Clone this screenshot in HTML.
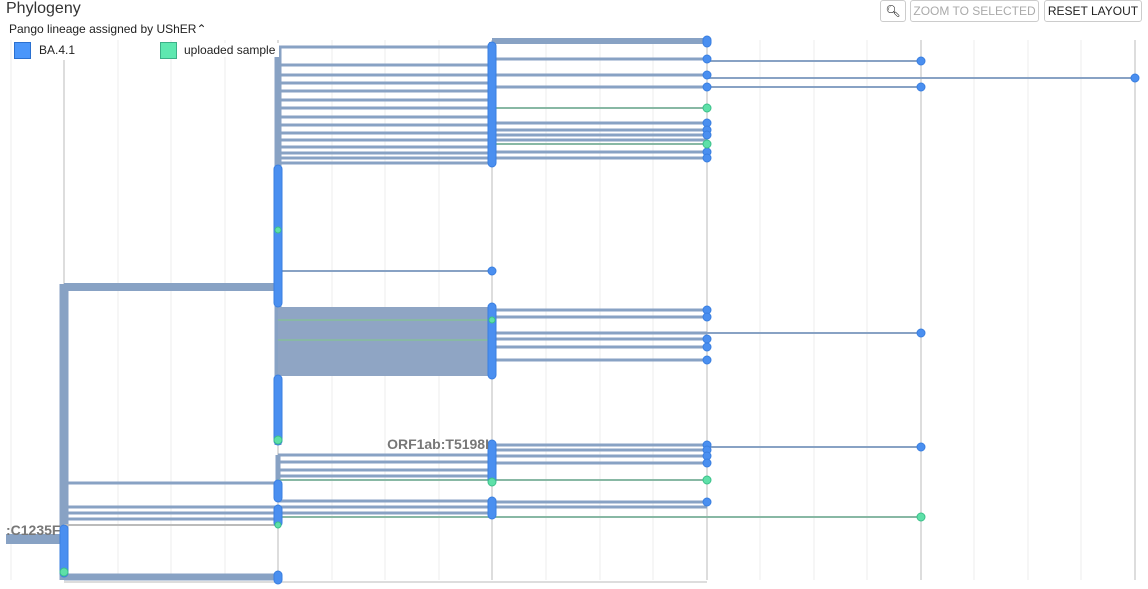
<!DOCTYPE html>
<html><head><meta charset="utf-8"><style>
body{margin:0;width:1148px;height:589px;background:#fff;font-family:"Liberation Sans",sans-serif;overflow:hidden;position:relative}
.t{position:absolute;left:6px;top:0;font-size:16px;color:#333}
.s{position:absolute;left:9px;top:22px;font-size:12px;color:#222}
.btn{position:absolute;top:0;height:20px;border:1px solid #ccc;border-radius:3px;font-size:12px;line-height:20px;text-align:center;background:#fff}
</style></head><body>
<svg width="1148" height="589" style="position:absolute;left:0;top:0">
<g stroke="#eee" stroke-width="1">
<line x1="11" y1="40" x2="11" y2="580"/><line x1="118" y1="40" x2="118" y2="580"/><line x1="171" y1="40" x2="171" y2="580"/><line x1="225" y1="40" x2="225" y2="580"/>
<line x1="332" y1="40" x2="332" y2="580"/><line x1="385" y1="40" x2="385" y2="580"/><line x1="439" y1="40" x2="439" y2="580"/>
<line x1="546" y1="40" x2="546" y2="580"/><line x1="600" y1="40" x2="600" y2="580"/><line x1="653" y1="40" x2="653" y2="580"/>
<line x1="760" y1="40" x2="760" y2="580"/><line x1="814" y1="40" x2="814" y2="580"/><line x1="867" y1="40" x2="867" y2="580"/>
<line x1="974" y1="40" x2="974" y2="580"/><line x1="1028" y1="40" x2="1028" y2="580"/><line x1="1081" y1="40" x2="1081" y2="580"/>
</g>
<g stroke="#ddd" stroke-width="2">
<line x1="64" y1="60" x2="64" y2="580"/><line x1="278" y1="40" x2="278" y2="580"/><line x1="492" y1="40" x2="492" y2="580"/><line x1="707" y1="40" x2="707" y2="580"/><line x1="921" y1="40" x2="921" y2="580"/><line x1="1135" y1="40" x2="1135" y2="580"/>
<line x1="64" y1="582" x2="707" y2="582"/>
</g>
<g stroke="#88a2c4" fill="none">
<line x1="6" y1="539" x2="64" y2="539" stroke-width="10"/>
<line x1="64" y1="284" x2="64" y2="580" stroke-width="9"/>
<line x1="64" y1="287" x2="278" y2="287" stroke-width="8"/>
<line x1="64" y1="577" x2="278" y2="577" stroke-width="7"/>
<line x1="278" y1="46" x2="278" y2="445" stroke-width="7"/>
<g stroke-width="3">
<line x1="278" y1="47" x2="492" y2="47"/><line x1="278" y1="65" x2="492" y2="65"/><line x1="278" y1="75" x2="492" y2="75"/><line x1="278" y1="83" x2="492" y2="83"/><line x1="278" y1="91" x2="492" y2="91"/><line x1="278" y1="100" x2="492" y2="100"/><line x1="278" y1="108" x2="492" y2="108"/><line x1="278" y1="117" x2="492" y2="117"/><line x1="278" y1="125" x2="492" y2="125"/><line x1="278" y1="133" x2="492" y2="133"/><line x1="278" y1="140" x2="492" y2="140"/><line x1="278" y1="147" x2="492" y2="147"/><line x1="278" y1="153" x2="492" y2="153"/><line x1="278" y1="158" x2="492" y2="158"/><line x1="278" y1="163" x2="492" y2="163"/>
<line x1="278" y1="271" x2="492" y2="271" stroke-width="2"/>
<line x1="492" y1="42" x2="492" y2="165" stroke-width="6"/>
<line x1="492" y1="41" x2="707" y2="41" stroke-width="6"/><line x1="492" y1="59" x2="707" y2="59"/><line x1="492" y1="75" x2="707" y2="75"/><line x1="492" y1="87" x2="707" y2="87"/><line x1="492" y1="123" x2="707" y2="123"/><line x1="492" y1="130" x2="707" y2="130"/><line x1="492" y1="135" x2="707" y2="135"/><line x1="492" y1="140" x2="707" y2="140"/><line x1="492" y1="152" x2="707" y2="152"/><line x1="492" y1="158" x2="707" y2="158"/>
<line x1="707" y1="61" x2="921" y2="61" stroke-width="2"/><line x1="707" y1="87" x2="921" y2="87" stroke-width="2"/><line x1="707" y1="78" x2="1135" y2="78" stroke-width="2"/>
<line x1="492" y1="305" x2="492" y2="376" stroke-width="6"/>
<line x1="492" y1="310" x2="707" y2="310"/><line x1="492" y1="317" x2="707" y2="317"/><line x1="492" y1="333" x2="707" y2="333"/><line x1="492" y1="339" x2="707" y2="339"/><line x1="492" y1="347" x2="707" y2="347"/><line x1="492" y1="360" x2="707" y2="360"/>
<line x1="707" y1="333" x2="921" y2="333" stroke-width="2"/>
<line x1="64" y1="483" x2="278" y2="483"/>
<line x1="278" y1="455" x2="278" y2="500" stroke-width="5"/>
<line x1="278" y1="455" x2="492" y2="455"/><line x1="278" y1="462" x2="492" y2="462"/><line x1="278" y1="470" x2="492" y2="470"/><line x1="278" y1="476" x2="492" y2="476"/>
<line x1="492" y1="445" x2="492" y2="480" stroke-width="6"/>
<line x1="492" y1="445" x2="707" y2="445"/><line x1="492" y1="450" x2="707" y2="450"/><line x1="492" y1="456" x2="707" y2="456"/><line x1="492" y1="463" x2="707" y2="463"/>
<line x1="707" y1="447" x2="921" y2="447" stroke-width="2"/>
<line x1="64" y1="507" x2="278" y2="507"/><line x1="64" y1="513" x2="278" y2="513"/><line x1="64" y1="519" x2="278" y2="519"/>
<line x1="278" y1="501" x2="492" y2="501"/><line x1="278" y1="507" x2="492" y2="507"/><line x1="278" y1="513" x2="492" y2="513"/>
<line x1="492" y1="502" x2="707" y2="502"/><line x1="492" y1="507" x2="707" y2="507"/>
</g>
<rect x="278" y="307" width="214" height="69" fill="#8fa5c4" stroke="none"/>
</g>
<g stroke="#88b8a4" stroke-width="2">
<line x1="492" y1="108" x2="707" y2="108"/><line x1="492" y1="144" x2="707" y2="144"/><line x1="278" y1="480" x2="492" y2="480"/><line x1="492" y1="480" x2="707" y2="480"/><line x1="278" y1="517" x2="921" y2="517"/>
<line x1="278" y1="340" x2="492" y2="340"/><line x1="278" y1="320" x2="492" y2="320"/>
</g>
<line x1="64" y1="525" x2="278" y2="525" stroke="#bbb" stroke-width="2"/>
<g fill="#4a8ff0" stroke="#3a7fe0" stroke-width="1">
<rect x="274" y="165" width="8" height="142" rx="4"/><rect x="274" y="375" width="8" height="70" rx="4"/>
<rect x="488" y="42" width="8" height="125" rx="4"/><rect x="488" y="303" width="8" height="76" rx="4"/>
<rect x="703" y="36" width="8" height="11" rx="4"/>
<rect x="60" y="525" width="8" height="52" rx="4"/><rect x="274" y="571" width="8" height="13" rx="4"/>
<rect x="274" y="480" width="8" height="22" rx="4"/><rect x="274" y="505" width="8" height="22" rx="4"/>
<rect x="488" y="440" width="8" height="44" rx="4"/><rect x="488" y="497" width="8" height="22" rx="4"/>
<circle cx="492" cy="271" r="4"/><circle cx="707" cy="59" r="4"/><circle cx="707" cy="75" r="4"/><circle cx="707" cy="87" r="4"/><circle cx="707" cy="123" r="4"/><circle cx="707" cy="130" r="4"/><circle cx="707" cy="135" r="4"/><circle cx="707" cy="152" r="4"/><circle cx="707" cy="158" r="4"/>
<circle cx="921" cy="61" r="4"/><circle cx="921" cy="87" r="4"/><circle cx="1135" cy="78" r="4"/>
<circle cx="707" cy="310" r="4"/><circle cx="707" cy="317" r="4"/><circle cx="707" cy="339" r="4"/><circle cx="707" cy="347" r="4"/><circle cx="707" cy="360" r="4"/><circle cx="921" cy="333" r="4"/>
<circle cx="707" cy="445" r="4"/><circle cx="707" cy="450" r="4"/><circle cx="707" cy="456" r="4"/><circle cx="707" cy="463" r="4"/><circle cx="921" cy="447" r="4"/><circle cx="707" cy="502" r="4"/>
</g>
<g fill="#5ee0a8" stroke="#3cc08a" stroke-width="1">
<circle cx="707" cy="108" r="4"/><circle cx="707" cy="144" r="4"/><circle cx="707" cy="480" r="4"/><circle cx="921" cy="517" r="4"/><circle cx="492" cy="482" r="4"/><circle cx="64" cy="572" r="4"/><circle cx="278" cy="440" r="4"/><circle cx="278" cy="230" r="3"/><circle cx="492" cy="320" r="3"/><circle cx="278" cy="525" r="3"/>
</g>
<text x="489" y="449" text-anchor="end" font-family="Liberation Sans,sans-serif" font-size="14" font-weight="bold" fill="#777">ORF1ab:T5198I</text>
<text x="6" y="535" font-family="Liberation Sans,sans-serif" font-size="14" font-weight="bold" fill="#777">:C1235F</text>
</svg>
<div class="t">Phylogeny</div>
<div class="s">Pango lineage assigned by UShER&#x2303;</div>
<div style="position:absolute;left:14px;top:42px;width:15px;height:15px;background:#4a96fa;border:1px solid #2a70d0"></div>
<div style="position:absolute;left:39px;top:43px;font-size:12px;color:#222">BA.4.1</div>
<div style="position:absolute;left:160px;top:42px;width:15px;height:15px;background:#5ee8b0;border:1px solid #3cb088"></div>
<div style="position:absolute;left:184px;top:43px;font-size:12px;color:#222;background:#fff;padding-right:4px">uploaded sample</div>
<div class="btn" style="left:880px;width:24px;">&#x1F50D;&#xFE0E;</div>
<div class="btn" style="left:910px;width:127px;color:#aaa">ZOOM TO SELECTED</div>
<div class="btn" style="left:1044px;width:96px;color:#222">RESET LAYOUT</div>
</body></html>
